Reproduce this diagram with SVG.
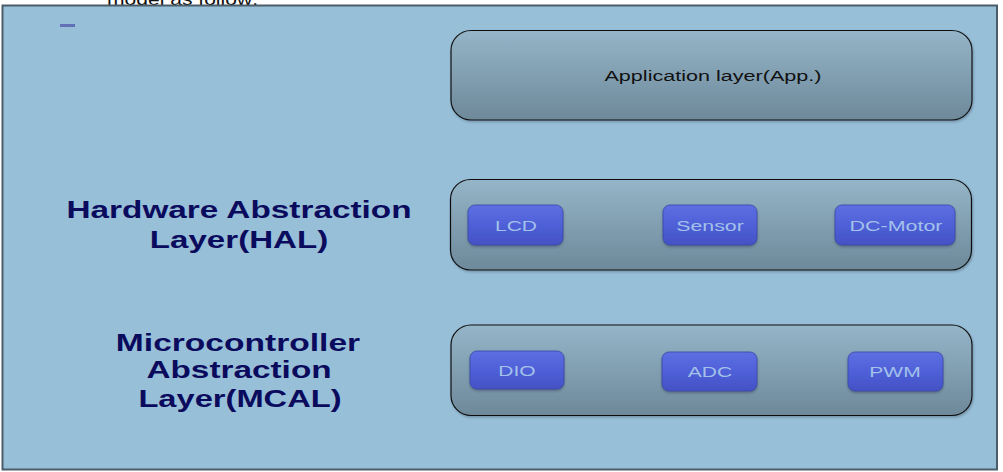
<svg xmlns="http://www.w3.org/2000/svg" width="1003" height="472" viewBox="0 0 1003 472">
  <defs>
    <linearGradient id="layerGrad" x1="0" y1="0" x2="0" y2="1">
      <stop offset="0" stop-color="#95b5c8"/>
      <stop offset="1" stop-color="#6d899a"/>
    </linearGradient>
    <linearGradient id="btnGrad" x1="0" y1="0" x2="0" y2="1">
      <stop offset="0" stop-color="#5d6fe2"/>
      <stop offset="0.5" stop-color="#4f60d8"/>
      <stop offset="1" stop-color="#4352c4"/>
    </linearGradient>
    <filter id="shadow" x="-10%" y="-10%" width="120%" height="130%">
      <feDropShadow dx="0" dy="1.5" stdDeviation="1" flood-color="#2a3550" flood-opacity="0.45"/>
    </filter>
    <filter id="lshadow" x="-5%" y="-10%" width="110%" height="125%">
      <feDropShadow dx="1" dy="1.5" stdDeviation="1" flood-color="#2a3a48" flood-opacity="0.35"/>
    </filter>
  </defs>
  <style>
    .layer { fill: url(#layerGrad); stroke: #111; stroke-width: 1.2; filter: url(#lshadow); }
    .btn { fill: url(#btnGrad); stroke: #3a47a8; stroke-width: 0.8; filter: url(#shadow); }
    .btnText { font-family: "Liberation Sans", Arial, sans-serif; font-size: 14.5px; fill: #a3c1ea; text-anchor: middle; }
    .side { font-family: "Liberation Sans", Arial, sans-serif; font-weight: bold; font-size: 23px; fill: #0b0b5e; text-anchor: middle; }
    .appText { font-family: "Liberation Sans", Arial, sans-serif; font-size: 15px; fill: #111; text-anchor: middle; }
  </style>

  <rect x="0" y="0" width="1003" height="472" fill="#ffffff"/>
  <text x="107" y="4.5" font-family="'Liberation Sans', Arial, sans-serif" font-size="17" fill="#111" textLength="151" lengthAdjust="spacingAndGlyphs">model as follow:</text>
  <rect id="frame" x="2.5" y="5.5" width="994.5" height="464" fill="#98bfd8" stroke="#4b5d69" stroke-width="2"/>
  <rect x="60" y="24" width="15" height="3" fill="#6270b5"/>

  <g id="hal-label">
    <g transform="translate(239,0) scale(1.45,1)"><text class="side" x="0" y="218.5">Hardware Abstraction</text></g>
    <g transform="translate(239,0) scale(1.44,1)"><text class="side" x="0" y="248.5">Layer(HAL)</text></g>
  </g>
  <g id="mcal-label">
    <g transform="translate(238,0) scale(1.46,1)"><text class="side" x="0" y="351">Microcontroller</text></g>
    <g transform="translate(239,0) scale(1.45,1)"><text class="side" x="0" y="378.5">Abstraction</text></g>
    <g transform="translate(240,0) scale(1.42,1)"><text class="side" x="0" y="407">Layer(MCAL)</text></g>
  </g>

  <g id="app-layer">
    <rect class="layer" x="451" y="30.5" width="521" height="89.5" rx="20" ry="20"/>
    <g transform="translate(713,0) scale(1.44,1)"><text class="appText" x="0" y="81">Application layer(App.)</text></g>
  </g>

  <g id="hal-layer">
    <rect class="layer" x="450.5" y="179.5" width="521" height="90.5" rx="20" ry="20"/>
  </g>
  <g id="lcd">
    <rect class="btn" x="468" y="205" width="95" height="40" rx="7" ry="7"/>
    <g transform="translate(516,0) scale(1.45,1)"><text class="btnText" x="0" y="231">LCD</text></g>
  </g>
  <g id="sensor">
    <rect class="btn" x="663" y="205" width="94" height="40" rx="7" ry="7"/>
    <g transform="translate(710,0) scale(1.47,1)"><text class="btnText" x="0" y="231">Sensor</text></g>
  </g>
  <g id="dc-motor">
    <rect class="btn" x="835" y="205" width="120" height="40" rx="7" ry="7"/>
    <g transform="translate(896,0) scale(1.48,1)"><text class="btnText" x="0" y="231">DC-Motor</text></g>
  </g>

  <g id="mcal-layer">
    <rect class="layer" x="451" y="325" width="521" height="90.5" rx="20" ry="20"/>
  </g>
  <g id="dio">
    <rect class="btn" x="470" y="351" width="94" height="38" rx="7" ry="7"/>
    <g transform="translate(517,0) scale(1.45,1)"><text class="btnText" x="0" y="376">DIO</text></g>
  </g>
  <g id="adc">
    <rect class="btn" x="662" y="352" width="95" height="39" rx="7" ry="7"/>
    <g transform="translate(710,0) scale(1.45,1)"><text class="btnText" x="0" y="377">ADC</text></g>
  </g>
  <g id="pwm">
    <rect class="btn" x="848" y="352" width="95" height="39" rx="7" ry="7"/>
    <g transform="translate(895,0) scale(1.45,1)"><text class="btnText" x="0" y="377">PWM</text></g>
  </g>

  <g id="connectors"></g>
</svg>
